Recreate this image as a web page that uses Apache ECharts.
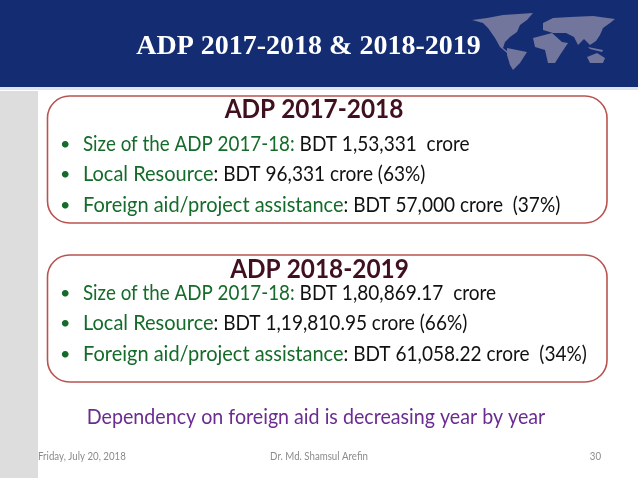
<!DOCTYPE html>
<html>
<head>
<meta charset="utf-8">
<style>html,body{margin:0;padding:0;background:#fff}#main{width:638px;height:478px}</style>
<script src="https://cdn.jsdelivr.net/npm/echarts@6/dist/echarts.min.js"></script>
</head>
<body>
<div id="main"></div>
<script>
var slideTitle = 'ADP 2017-2018 & 2018-2019';
var boxTitles = ['ADP 2017-2018', 'ADP 2018-2019'];
var labels = ['Size of the ADP 2017-18:', 'Local Resource', 'Foreign aid/project assistance'];
var values2017 = [' BDT 1,53,331  crore', ': BDT 96,331 crore (63%)', ': BDT 57,000 crore  (37%)'];
var values2018 = [' BDT 1,80,869.17  crore', ': BDT 1,19,810.95 crore (66%)', ': BDT 61,058.22 crore  (34%)'];
var conclusion = 'Dependency on foreign aid is decreasing year by year';
var footer = ['Friday, July 20, 2018', 'Dr. Md. Shamsul Arefin', '30'];

// rough outline of the continents in the header picture
var continents = [
  [[472,20],[487,18],[503,15],[533,13],[527,20],[520,25],[517,32],[510,37],[505,42],[503,48],[512,55],[507,53],[500,47],[495,38],[488,28],[483,23]],
  [[507,48],[527,52],[520,63],[513,70],[510,65],[507,55]],
  [[543,23],[553,18],[570,17],[593,16],[615,19],[610,23],[603,28],[600,35],[596,41],[590,45],[584,39],[578,45],[574,37],[566,33],[553,33],[543,30]],
  [[533,38],[552,33],[562,42],[568,43],[560,55],[555,63],[548,63],[545,50],[535,47]],
  [[587,57],[597,53],[605,58],[603,63],[590,63]],
  [[588,47],[603,50],[602,52],[590,49]]
];

var chart = echarts.init(document.getElementById('main'));
var els = [];
var bodySize = 21;
var measure = document.createElement('canvas').getContext('2d');
measure.font = bodySize + 'px Lato';

// Calibri is narrower than Lato, mostly in the digits and capitals
var labelScale = [0.895, 0.952, 0.952];
var valueScale = 0.907;

els.push({ type: 'rect', shape: { x: 0, y: 0, width: 638, height: 87 },
  style: { fill: '#132c72' } });
els.push({ type: 'rect', shape: { x: 0, y: 87, width: 638, height: 3 }, style: { fill: '#dfe3ee' } });
els.push({ type: 'rect', shape: { x: 0, y: 91, width: 38, height: 387 }, style: { fill: '#dddddd' } });

continents.forEach(function (pts) {
  els.push({ type: 'polygon', shape: { points: pts }, style: { fill: '#72759c' } });
});

function addText(text, x, y, font, size, weight, color, align, sx) {
  els.push({ type: 'text', x: x, y: y, scaleX: sx || 1, style: {
    text: text, fontFamily: font, fontSize: size, fontWeight: weight,
    fill: color, align: align, verticalAlign: 'middle' } });
}

addText(slideTitle, 308.5, 47, '"Liberation Serif"', 28, 'bold', '#fff', 'center');

function addBox(top, bottom, title, titleX, titleY, vals, ys) {
  els.push({ type: 'rect', shape: { x: 47.5, y: top, width: 559.5, height: bottom - top, r: 22 },
    style: { fill: '#fff', stroke: '#b85450', lineWidth: 1.6 } });
  addText(title, titleX, titleY, 'Lato', 26.5, 'bold', '#40101f', 'center', 0.92);
  vals.forEach(function (v, i) {
    addText('\u2022', 60, ys[i], 'Lato', 18, 'normal', '#146b2a', 'left');
    addText(labels[i], 83, ys[i], 'Lato', bodySize, 'normal', '#146b2a', 'left', labelScale[i]);
    var valueX = 83 + measure.measureText(labels[i]).width * labelScale[i];
    addText(v, valueX, ys[i], 'Lato', bodySize, 'normal', '#111', 'left', valueScale);
  });
}

addBox(96, 223, boxTitles[0], 314, 109, values2017, [144, 174, 205]);
addBox(255, 382, boxTitles[1], 319.5, 269, values2018, [293, 323, 354]);

addText(conclusion, 316, 417, 'Lato', bodySize, 'normal', '#6a2c91', 'center', 0.936);
addText(footer[0], 38, 456, 'Lato', 11, 'normal', '#8b8b8b', 'left', 0.88);
addText(footer[1], 319, 456, 'Lato', 11, 'normal', '#8b8b8b', 'center', 0.88);
addText(footer[2], 601, 456, 'Lato', 11, 'normal', '#8b8b8b', 'right', 0.88);

chart.setOption({ animation: false, backgroundColor: '#fff', graphic: { elements: els } });
</script>
</body>
</html>
